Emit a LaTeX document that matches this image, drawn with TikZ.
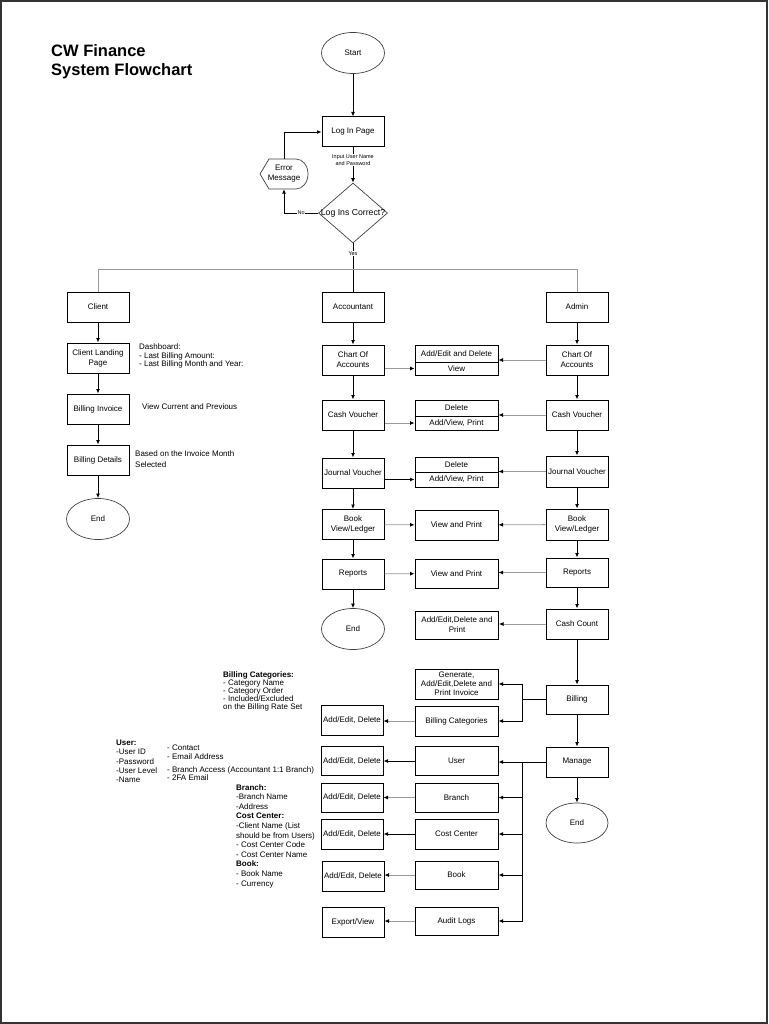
\documentclass[tikz,border=0pt]{standalone}
\usepackage{fontspec}
\setmainfont{Liberation Sans}
\usetikzlibrary{shapes.geometric,arrows.meta}
\begin{document}
\begin{tikzpicture}[x=1pt,y=-1pt,
  box/.style={draw, line width=1pt, minimum width=62pt, minimum height=30pt, inner sep=0pt, align=center, font=\fontsize{8}{10}\selectfont},
  wbox/.style={box, minimum width=83pt},
  term/.style={draw=black!75, ellipse, line width=0.7pt, minimum width=63pt, minimum height=41pt, inner sep=0pt, font=\fontsize{8}{10}\selectfont},
  lnk/.style={line width=0.9pt},
  glnk/.style={line width=0.8pt, draw=black!40},
  arr/.style={line width=0.9pt, -{Latex[length=4.5pt,width=4pt]}},
  garr/.style={line width=0.8pt, draw=black!40, -{Latex[length=4.5pt,width=4pt,color=black]}},
  tiny/.style={font=\fontsize{5.5}{7}\selectfont, fill=white, inner sep=0.6pt, align=center},
  note/.style={align=left, anchor=north west, inner sep=0pt, font=\fontsize{8}{8.2}\selectfont},
]
\useasboundingbox (0,0) rectangle (768,1024);
\draw[line width=1.2pt, black!80] (1,1) rectangle (767,1023);

% title
\node[anchor=north west, inner sep=0pt, align=left, font=\fontsize{16.5}{19.5}\selectfont\bfseries] (title) at (51,44) {CW Finance\\System Flowchart};

% top
\node[term] (start) at (353,53) {Start};
\node[box] (login) at (353,132) {Log In Page};
\node[diamond, draw=black!75, line width=0.7pt, minimum width=69pt, minimum height=60pt, inner sep=0pt,
      label={[font=\fontsize{8.7}{10}\selectfont, inner sep=0pt]center:Log Ins Correct?}] (dia) at (353,213) {};
\draw[line width=0.7pt, draw=black!75] (260,174) -- (269,159) -- (296,159) arc[start angle=-90, end angle=90, x radius=12, y radius=15] -- (269,189) -- cycle;
\node[minimum width=48pt, minimum height=30pt, inner sep=0pt, align=center, font=\fontsize{8}{10}\selectfont] (err) at (284,174) {Error\\Message};

% roles
\node[box] (client) at (98,307) {Client};
\node[box] (acc) at (353,307) {Accountant};
\node[box] (admin) at (577,307) {Admin};
\coordinate (bus) at (353,269);

% client column
\node[box] (landing) at (98,358) {Client Landing\\Page};
\node[box] (invoice) at (98,409) {Billing Invoice};
\node[box] (details) at (98,460) {Billing Details};
\node[term] (cend) at (98,519) {End};

\node[note] (dash) at (139,344) {Dashboard:\\- Last Billing Amount:\\- Last Billing Month and Year:};
\node[note] (viewcp) at (142,404) {View Current and Previous};
\node[note, font=\fontsize{8}{11}\selectfont] (based) at (135,450) {Based on the Invoice Month\\Selected};

% accountant column
\node[box] (acoa) at (353,360) {Chart Of\\Accounts};
\node[box] (acv) at (353,415) {Cash Voucher};
\node[box] (ajv) at (353,473) {Journal Voucher};
\node[box] (abook) at (353,524.5) {Book\\View/Ledger};
\node[box] (arep) at (353,574) {Reports};
\node[term] (aend) at (353,629) {End};

% middle boxes
\node[wbox, minimum height=17pt] (coatop) at (456.5,353.5) {Add/Edit and Delete};
\node[wbox, minimum height=13pt] (coabot) at (456.5,368.5) {View};
\node[wbox, minimum height=16pt] (cvtop) at (456.5,408) {Delete};
\node[wbox, minimum height=14pt] (cvbot) at (456.5,423) {Add/View, Print};
\node[wbox, minimum height=15pt] (jvtop) at (456.5,464.5) {Delete};
\node[wbox, minimum height=15pt] (jvbot) at (456.5,479.5) {Add/View, Print};
\node[wbox] (vp1) at (456.5,525) {View and Print};
\node[wbox, minimum height=29pt] (vp2) at (456.5,573.5) {View and Print};
\node[wbox, minimum height=28pt] (aep) at (457,625) {Add/Edit,Delete and\\Print};
\node[wbox, font=\fontsize{8}{9}\selectfont] (gen) at (456.5,684) {Generate,\\Add/Edit,Delete and\\Print Invoice};
\node[wbox] (bcat) at (456.5,721) {Billing Categories};
\node[wbox, minimum height=29pt] (user) at (456.5,761) {User};
\node[wbox, minimum height=29pt] (branch) at (456.5,797.5) {Branch};
\node[wbox] (cc) at (456.5,834) {Cost Center};
\node[wbox, minimum height=28pt] (book) at (456.5,875) {Book};
\node[wbox, minimum height=28pt] (audit) at (456.5,921) {Audit Logs};

% left boxes
\node[box] (ae0) at (352,720.5) {Add/Edit, Delete};
\node[box, minimum height=29pt] (ae1) at (352,761) {Add/Edit, Delete};
\node[box, minimum height=29pt] (ae2) at (352,797.5) {Add/Edit, Delete};
\node[box] (ae3) at (352,834) {Add/Edit, Delete};
\node[box] (ae4) at (353,876) {Add/Edit, Delete};
\node[box] (exp) at (353,922) {Export/View};

% admin column
\node[box] (mcoa) at (577,360) {Chart Of\\Accounts};
\node[box] (mcv) at (577,415) {Cash Voucher};
\node[box, minimum height=31pt] (mjv) at (577,471.5) {Journal Voucher};
\node[box, minimum height=31pt] (mbook) at (577,524.5) {Book\\View/Ledger};
\node[box, minimum height=29pt] (mrep) at (577,572.5) {Reports};
\node[box] (cash) at (577,624) {Cash Count};
\node[box, minimum height=29pt] (billing) at (577,699.5) {Billing};
\node[box] (manage) at (577,762) {Manage};
\node[term, minimum height=40pt, minimum width=62pt] (mend) at (577,823) {End};
\coordinate (bb) at (522,699.5);
\coordinate (mb) at (522,762);

% notes lower left
\node[note] (bcnote) at (223,671) {\textbf{Billing Categories:}\\- Category Name\\- Category Order\\- Included/Excluded\\on the Billing Rate Set};
\node[note, font=\fontsize{8}{9.2}\selectfont] (unote) at (116,740) {\textbf{User:}\\-User ID\\-Password\\-User Level\\-Name};
\node[note, font=\fontsize{8}{9}\selectfont] (cnote) at (167,745) {- Contact\\- Email Address};
\node[note, font=\fontsize{8}{8.8}\selectfont] (banote) at (167,766) {- Branch Access (Accountant 1:1 Branch)\\- 2FA Email};
\node[note, font=\fontsize{8}{9.6}\selectfont] (brnote) at (236,784) {\textbf{Branch:}\\-Branch Name\\-Address\\\textbf{Cost Center:}\\-Client Name (List\\should be from Users)\\- Cost Center Code\\- Cost Center Name\\\textbf{Book:}\\- Book Name\\- Currency};

% top connectors
\draw[arr] (start) -- (login);
\draw[arr] (login) -- node[tiny, pos=0.35] {Input User Name\\and Password} (dia.north);
\draw[arr] (dia.west) -| node[tiny, pos=0.25] {No} (err.south);
\draw[arr] (err.north) |- (login.west);
\draw[lnk] (dia.south) -- node[tiny, pos=0.22] {Yes} (acc.north);
\draw[glnk] (bus) -| (client.north);
\draw[glnk] (bus) -| (admin.north);

% client column connectors
\draw[arr] (client) -- (landing);
\draw[arr] (landing) -- (invoice);
\draw[arr] (invoice) -- (details);
\draw[arr] (details) -- (cend);

% accountant column connectors
\draw[arr] (acc) -- (acoa);
\draw[arr] (acoa) -- (acv);
\draw[arr] (acv) -- (ajv);
\draw[arr] (ajv) -- (abook);
\draw[arr] (abook) -- (arep);
\draw[arr] (arep) -- (aend);

% admin column connectors
\draw[arr] (admin) -- (mcoa);
\draw[arr] (mcoa) -- (mcv);
\draw[arr] (mcv) -- (mjv);
\draw[arr] (mjv) -- (mbook);
\draw[arr] (mbook) -- (mrep);
\draw[arr] (mrep) -- (cash);
\draw[arr] (cash) -- (billing);
\draw[arr] (billing) -- (manage);
\draw[arr] (manage) -- (mend);

% horizontal connectors
\draw[garr] (acoa.east |- coabot.west) -- (coabot.west);
\draw[garr] (mcoa.west) -- (mcoa.west -| coatop.east);
\draw[garr] (acv.east |- cvbot.west) -- (cvbot.west);
\draw[garr] (mcv.west) -- (mcv.west -| cvtop.east);
\draw[arr] (ajv.east |- jvbot.west) -- (jvbot.west);
\draw[garr] (mjv.west) -- (mjv.west -| jvtop.east);
\draw[garr] (abook) -- (vp1);
\draw[garr] (mbook) -- (vp1);
\draw[garr] (arep) -- (vp2);
\draw[garr] (mrep.west) -- (mrep.west -| vp2.east);
\draw[garr] (cash.west) -- (cash.west -| aep.east);

\draw[lnk] (billing.west) -- (bb);
\draw[arr] (bb) |- (gen.east);
\draw[arr] (bb) |- (bcat.east);
\draw[garr] (bcat.west) -- (bcat.west -| ae0.east);

\draw[arr] (manage.west) -- (manage.west -| user.east);
\draw[arr] (mb) |- (branch.east);
\draw[arr] (mb) |- (cc.east);
\draw[arr] (mb) |- (book.east);
\draw[arr] (mb) |- (audit.east);

\draw[arr] (user) -- (ae1);
\draw[garr] (branch) -- (ae2);
\draw[arr] (cc) -- (ae3);
\draw[garr] (book.west) -- (book.west -| ae4.east);
\draw[garr] (audit.west) -- (audit.west -| exp.east);
\end{tikzpicture}
\end{document}
